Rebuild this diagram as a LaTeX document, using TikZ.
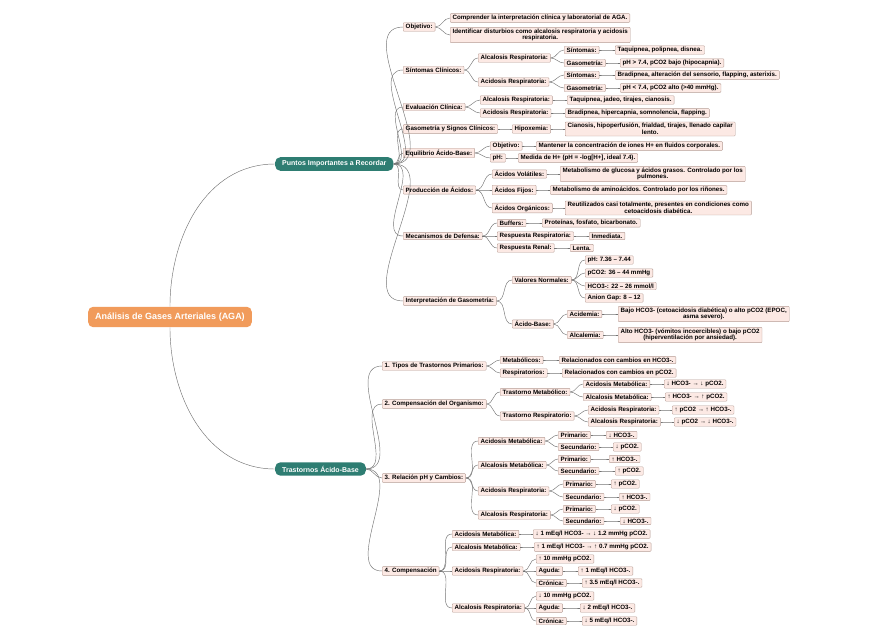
\documentclass[tikz,border=0pt]{standalone}
\usepackage{fontspec}
\setmainfont{Liberation Sans}
\usetikzlibrary{positioning}
\definecolor{boxfill}{HTML}{FCE9E4}
\definecolor{boxline}{HTML}{B59C94}
\definecolor{teal}{HTML}{2E7D72}
\definecolor{orng}{HTML}{F19B5B}
\tikzset{
  box/.style={draw=boxline, fill=boxfill, rounded corners=0.8pt, anchor=west, inner xsep=2.5pt, inner ysep=1.4pt, font=\fontsize{6.2}{6.6}\selectfont\bfseries, align=center},
  main/.style={fill=teal, text=white, rounded corners=5pt, anchor=west, inner xsep=7pt, inner ysep=3.5pt, font=\fontsize{7}{8}\selectfont\bfseries},
  root/.style={fill=orng, text=white, rounded corners=5pt, anchor=west, inner xsep=7pt, inner ysep=6pt, font=\fontsize{9}{11}\selectfont\bfseries},
  link/.style={draw=gray!90!black, line width=0.45pt}
}
\begin{document}
\begin{tikzpicture}[x=1pt, y=-1pt]
\useasboundingbox (0,0) rectangle (895,640);
\node[root] (aga) at (88,317) {Análisis de Gases Arteriales (AGA)};
\node[main] (pir) at (275,164) {Puntos Importantes a Recordar};
\node[main] (tab) at (275,469) {Trastornos Ácido-Base};
\draw[link] (aga.north) to[out=90,in=180] (pir.west);
\draw[link] (aga.south) to[out=-90,in=180] (tab.west);
% puntos importantes
\node[box] (obj) at (403,27) {Objetivo:};
\node[box] (obj1) at (450,18) {Comprender la interpretación clínica y laboratorial de AGA.};
\node[box] (obj2) at (450,35) {Identificar disturbios como alcalosis respiratoria y acidosis\\respiratoria.};
\node[box] (sin) at (403,70) {Síntomas Clínicos:};
\node[box] (sal) at (478,58) {Alcalosis Respiratoria:};
\node[box] (sals) at (564,50) {Síntomas:};
\node[box] (sals1) at (615,50) {Taquipnea, polipnea, disnea.};
\node[box] (salg) at (564,63) {Gasometría:};
\node[box] (salg1) at (620,63) {pH > 7.4, pCO2 bajo (hipocapnia).};
\node[box] (sac) at (478,82) {Acidosis Respiratoria:};
\node[box] (sacs) at (564,75) {Síntomas:};
\node[box] (sacs1) at (615,75) {Bradipnea, alteración del sensorio, flapping, asterixis.};
\node[box] (sacg) at (564,88) {Gasometría:};
\node[box] (sacg1) at (620,88) {pH < 7.4, pCO2 alto (>40 mmHg).};
\node[box] (eva) at (403,107) {Evaluación Clínica:};
\node[box] (eval) at (480,100) {Alcalosis Respiratoria:};
\node[box] (eval1) at (567,100) {Taquipnea, jadeo, tirajes, cianosis.};
\node[box] (evac) at (480,113) {Acidosis Respiratoria:};
\node[box] (evac1) at (565,113) {Bradipnea, hipercapnia, somnolencia, flapping.};
\node[box] (gsc) at (403,129) {Gasometría y Signos Clínicos:};
\node[box] (hip) at (512,129) {Hipoxemia:};
\node[box] (hip1) at (565,129) {Cianosis, hipoperfusión, frialdad, tirajes, llenado capilar\\lento.};
\node[box] (eab) at (403,153) {Equilibrio Ácido-Base:};
\node[box] (eabo) at (490,146) {Objetivo:};
\node[box] (eabo1) at (536,146) {Mantener la concentración de iones H+ en fluidos corporales.};
\node[box] (eabp) at (490,158) {pH:};
\node[box] (eabp1) at (518,158) {Medida de H+ (pH = -log[H+], ideal 7.4).};
\node[box] (pac) at (403,190) {Producción de Ácidos:};
\node[box] (pacv) at (492,174) {Ácidos Volátiles:};
\node[box] (pacv1) at (560,174) {Metabolismo de glucosa y ácidos grasos. Controlado por los\\pulmones.};
\node[box] (pacf) at (492,190) {Ácidos Fijos:};
\node[box] (pacf1) at (550,190) {Metabolismo de aminoácidos. Controlado por los riñones.};
\node[box] (paco) at (492,208) {Ácidos Orgánicos:};
\node[box] (paco1) at (565,208) {Reutilizados casi totalmente, presentes en condiciones como\\cetoacidosis diabética.};
\node[box] (mde) at (403,236) {Mecanismos de Defensa:};
\node[box] (mdeb) at (497,223) {Buffers:};
\node[box] (mdeb1) at (542,223) {Proteínas, fosfato, bicarbonato.};
\node[box] (mder) at (497,236) {Respuesta Respiratoria:};
\node[box] (mder1) at (589,236) {Inmediata.};
\node[box] (mden) at (497,248) {Respuesta Renal:};
\node[box] (mden1) at (570,248) {Lenta.};
\node[box] (igs) at (403,301) {Interpretación de Gasometría:};
\node[box] (vn) at (512,280) {Valores Normales:};
\node[box] (vn1) at (585,260) {pH: 7.36 – 7.44};
\node[box] (vn2) at (585,273) {pCO2: 36 – 44 mmHg};
\node[box] (vn3) at (585,286) {HCO3-: 22 – 26 mmol/l};
\node[box] (vn4) at (585,298) {Anion Gap: 8 – 12};
\node[box] (ab) at (512,324) {Ácido-Base:};
\node[box] (abd) at (567,314) {Acidemia:};
\node[box] (abd1) at (618,314) {Bajo HCO3- (cetoacidosis diabética) o alto pCO2 (EPOC,\\asma severo).};
\node[box] (abl) at (567,335) {Alcalemia:};
\node[box] (abl1) at (618,335) {Alto HCO3- (vómitos incoercibles) o bajo pCO2\\(hiperventilación por ansiedad).};
% trastornos acido-base
\node[box] (tp) at (382,366) {1. Tipos de Trastornos Primarios:};
\node[box] (tpm) at (500,360) {Metabólicos:};
\node[box] (tpm1) at (559,360) {Relacionados con cambios en HCO3-.};
\node[box] (tpr) at (500,373) {Respiratorios:};
\node[box] (tpr1) at (562,373) {Relacionados con cambios en pCO2.};
\node[box] (co) at (382,404) {2. Compensación del Organismo:};
\node[box] (com) at (500,392) {Trastorno Metabólico:};
\node[box] (coma) at (583,384) {Acidosis Metabólica:};
\node[box] (coma1) at (664,384) {↓ HCO3- → ↓ pCO2.};
\node[box] (coml) at (583,397) {Alcalosis Metabólica:};
\node[box] (coml1) at (665,397) {↑ HCO3- → ↑ pCO2.};
\node[box] (cor) at (500,416) {Trastorno Respiratorio:};
\node[box] (cora) at (588,410) {Acidosis Respiratoria:};
\node[box] (cora1) at (672,410) {↑ pCO2 → ↑ HCO3-.};
\node[box] (corl) at (588,422) {Alcalosis Respiratoria:};
\node[box] (corl1) at (674,422) {↓ pCO2 → ↓ HCO3-.};
\node[box] (rel) at (382,478) {3. Relación pH y Cambios:};
\node[box] (ram) at (478,441) {Acidosis Metabólica:};
\node[box] (ramp) at (558,435) {Primario:};
\node[box] (ramp1) at (606,435) {↓ HCO3-.};
\node[box] (rams) at (558,447) {Secundario:};
\node[box] (rams1) at (613,447) {↓ pCO2.};
\node[box] (rlm) at (478,465) {Alcalosis Metabólica:};
\node[box] (rlmp) at (558,459) {Primario:};
\node[box] (rlmp1) at (609,459) {↑ HCO3-.};
\node[box] (rlms) at (558,471) {Secundario:};
\node[box] (rlms1) at (615,471) {↑ pCO2.};
\node[box] (rar) at (478,491) {Acidosis Respiratoria:};
\node[box] (rarp) at (563,484) {Primario:};
\node[box] (rarp1) at (611,484) {↑ pCO2.};
\node[box] (rars) at (563,497) {Secundario:};
\node[box] (rars1) at (619,497) {↑ HCO3-.};
\node[box] (rlr) at (478,515) {Alcalosis Respiratoria:};
\node[box] (rlrp) at (563,509) {Primario:};
\node[box] (rlrp1) at (611,509) {↓ pCO2.};
\node[box] (rlrs) at (563,521) {Secundario:};
\node[box] (rlrs1) at (620,521) {↓ HCO3-.};
\node[box] (cp) at (382,571) {4. Compensación};
\node[box] (cam) at (452,534) {Acidosis Metabólica:};
\node[box] (cam1) at (533,534) {↓ 1 mEq/l HCO3- → ↓ 1.2 mmHg pCO2.};
\node[box] (clm) at (452,547) {Alcalosis Metabólica:};
\node[box] (clm1) at (534,547) {↑ 1 mEq/l HCO3- → ↑ 0.7 mmHg pCO2.};
\node[box] (car) at (452,571) {Acidosis Respiratoria:};
\node[box] (car0) at (536,559) {↑ 10 mmHg pCO2.};
\node[box] (cara) at (536,571) {Aguda:};
\node[box] (cara1) at (578,571) {↑ 1 mEq/l HCO3-.};
\node[box] (carc) at (536,583) {Crónica:};
\node[box] (carc1) at (582,583) {↑ 3.5 mEq/l HCO3-.};
\node[box] (clr) at (452,608) {Alcalosis Respiratoria:};
\node[box] (clr0) at (536,596) {↓ 10 mmHg pCO2.};
\node[box] (clra) at (536,608) {Aguda:};
\node[box] (clra1) at (580,608) {↓ 2 mEq/l HCO3-.};
\node[box] (clrc) at (536,621) {Crónica:};
\node[box] (clrc1) at (582,621) {↓ 5 mEq/l HCO3-.};
% connectors
\foreach \a/\b in {pir/obj, pir/sin, pir/eva, pir/gsc, pir/eab, pir/pac, pir/mde, pir/igs,
  obj/obj1, obj/obj2, sin/sal, sin/sac, sal/sals, sal/salg, sals/sals1, salg/salg1,
  sac/sacs, sac/sacg, sacs/sacs1, sacg/sacg1, eva/eval, eva/evac, eval/eval1, evac/evac1,
  gsc/hip, hip/hip1, eab/eabo, eab/eabp, eabo/eabo1, eabp/eabp1,
  pac/pacv, pac/pacf, pac/paco, pacv/pacv1, pacf/pacf1, paco/paco1,
  mde/mdeb, mde/mder, mde/mden, mdeb/mdeb1, mder/mder1, mden/mden1,
  igs/vn, igs/ab, vn/vn1, vn/vn2, vn/vn3, vn/vn4, ab/abd, ab/abl, abd/abd1, abl/abl1,
  tab/tp, tab/co, tab/rel, tab/cp, tp/tpm, tp/tpr, tpm/tpm1, tpr/tpr1,
  co/com, co/cor, com/coma, com/coml, coma/coma1, coml/coml1, cor/cora, cor/corl, cora/cora1, corl/corl1,
  rel/ram, rel/rlm, rel/rar, rel/rlr, ram/ramp, ram/rams, ramp/ramp1, rams/rams1,
  rlm/rlmp, rlm/rlms, rlmp/rlmp1, rlms/rlms1, rar/rarp, rar/rars, rarp/rarp1, rars/rars1,
  rlr/rlrp, rlr/rlrs, rlrp/rlrp1, rlrs/rlrs1,
  cp/cam, cp/clm, cp/car, cp/clr, cam/cam1, clm/clm1,
  car/car0, car/cara, car/carc, cara/cara1, carc/carc1,
  clr/clr0, clr/clra, clr/clrc, clra/clra1, clrc/clrc1}
  \draw[link] (\a.east) to[out=0,in=180] (\b.west);
\end{tikzpicture}
\end{document}
